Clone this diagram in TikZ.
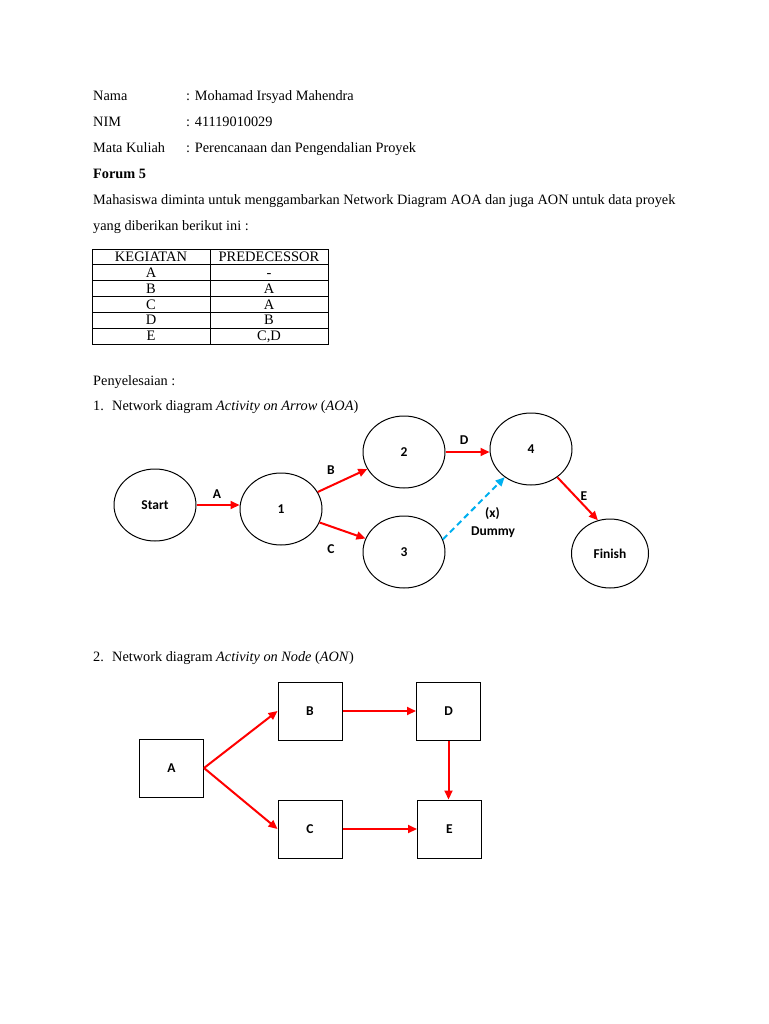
\documentclass[tikz,border=0pt]{standalone}
\usepackage{fontspec}
\setmainfont{Liberation Serif}
\newfontfamily\diagfont{Carlito}
\usetikzlibrary{shapes.geometric, arrows.meta}

\definecolor{dummyblue}{RGB}{0,176,240}

\begin{document}
\begin{tikzpicture}[x=1pt, y=-1pt,
  txt/.style={anchor=base west, inner sep=0pt, font=\fontsize{14.3}{17}\selectfont},
  cell/.style={anchor=base, inner sep=0pt, font=\fontsize{14.5}{17}\selectfont},
  event/.style={draw, ellipse, line width=1pt, minimum width=82pt, minimum height=72pt, inner sep=0pt, font=\diagfont\bfseries\fontsize{13.5}{16}\selectfont},
  activity/.style={draw, rectangle, line width=1pt, minimum width=64pt, minimum height=58pt, inner sep=0pt, font=\diagfont\bfseries\fontsize{13.5}{16}\selectfont},
  lbl/.style={inner sep=0pt, font=\diagfont\bfseries\fontsize{13.5}{16}\selectfont},
  redarrow/.style={-{Triangle[length=9pt,width=8pt]}, red, line width=2pt},
  dummyarrow/.style={-{Triangle[length=9pt,width=8pt]}, dummyblue, line width=2pt, dash pattern=on 6pt off 4pt}]

\fill[white] (0,0) rectangle (768,1024);
\useasboundingbox (0,0) rectangle (768,1024);

%header
\node[txt] at (93,101) {Nama};
\node[txt] at (186,101) {: Mohamad Irsyad Mahendra};
\node[txt] at (93,127) {NIM};
\node[txt] at (186,127) {: 41119010029};
\node[txt] at (93,153) {Mata Kuliah};
\node[txt] at (186,153) {: Perencanaan dan Pengendalian Proyek};
\node[txt] at (93,179) {\bfseries Forum 5};
\node[txt] at (93,205) {Mahasiswa diminta untuk menggambarkan Network Diagram AOA dan juga AON untuk data proyek};
\node[txt] at (93,231) {yang diberikan berikut ini :};

%table of activities
\draw[line width=0.9pt] (92,249) rectangle (328,344);
\draw[line width=0.9pt] (210,249) -- (210,344);
\foreach \k in {1,...,5}
  \draw[line width=0.9pt] (92,249+\k*15.83) -- (328,249+\k*15.83);
\foreach \k/\act/\pre in {0/KEGIATAN/PREDECESSOR, 1/A/-, 2/B/A, 3/C/A, 4/D/B, 5/E/{C,D}}
{
  \node[cell] at (151,249+\k*15.83+12.6) {\act};
  \node[cell] at (269,249+\k*15.83+12.6) {\pre};
}

\node[txt] at (93,385) {Penyelesaian :};

%activity on arrow
\node[txt] at (93,410) {1.};
\node[txt] at (112,410) {Network diagram \textit{Activity on Arrow} (\textit{AOA})};

\node[event] (start) at (155,505) {Start};
\node[event] (n1) at (281,509) {1};
\node[event] (n2) at (404,452) {2};
\node[event] (n3) at (404,552) {3};
\node[event] (n4) at (531,449) {4};
\node[event, minimum width=77pt, minimum height=69pt] (fin) at (610,553.5) {Finish};

\draw[redarrow] (start.east) -- (start.east -| n1.west);
\draw[redarrow] (n1) -- (n2);
\draw[redarrow] (n1) -- (n3);
\draw[redarrow] (n2.east) -- (n2.east -| n4.west);
\draw[dummyarrow] (n3.18) -- (n4.227);
\draw[redarrow] (n4.313) -- (fin.110);

\node[lbl] at (217,494) {A};
\node[lbl] at (331,470) {B};
\node[lbl] at (331,549) {C};
\node[lbl] at (464,440) {D};
\node[lbl] at (584,496) {E};
\node[lbl] at (492.5,514) {(x)};
\node[lbl] at (493,532) {Dummy};

%activity on node
\node[txt] at (93,661) {2.};
\node[txt] at (112,661) {Network diagram \textit{Activity on Node} (\textit{AON})};

\node[activity] (a) at (171.5,768) {A};
\node[activity] (b) at (310,711) {B};
\node[activity] (d) at (448.5,711) {D};
\node[activity] (c) at (310,829) {C};
\node[activity] (e) at (449.5,829) {E};

\draw[redarrow] (a.east) -- (b.west);
\draw[redarrow] (a.east) -- (c.west);
\draw[redarrow] (b) -- (d);
\draw[redarrow] (d.south) -- (d.south |- e.north);
\draw[redarrow] (c) -- (e);

\end{tikzpicture}
\end{document}
